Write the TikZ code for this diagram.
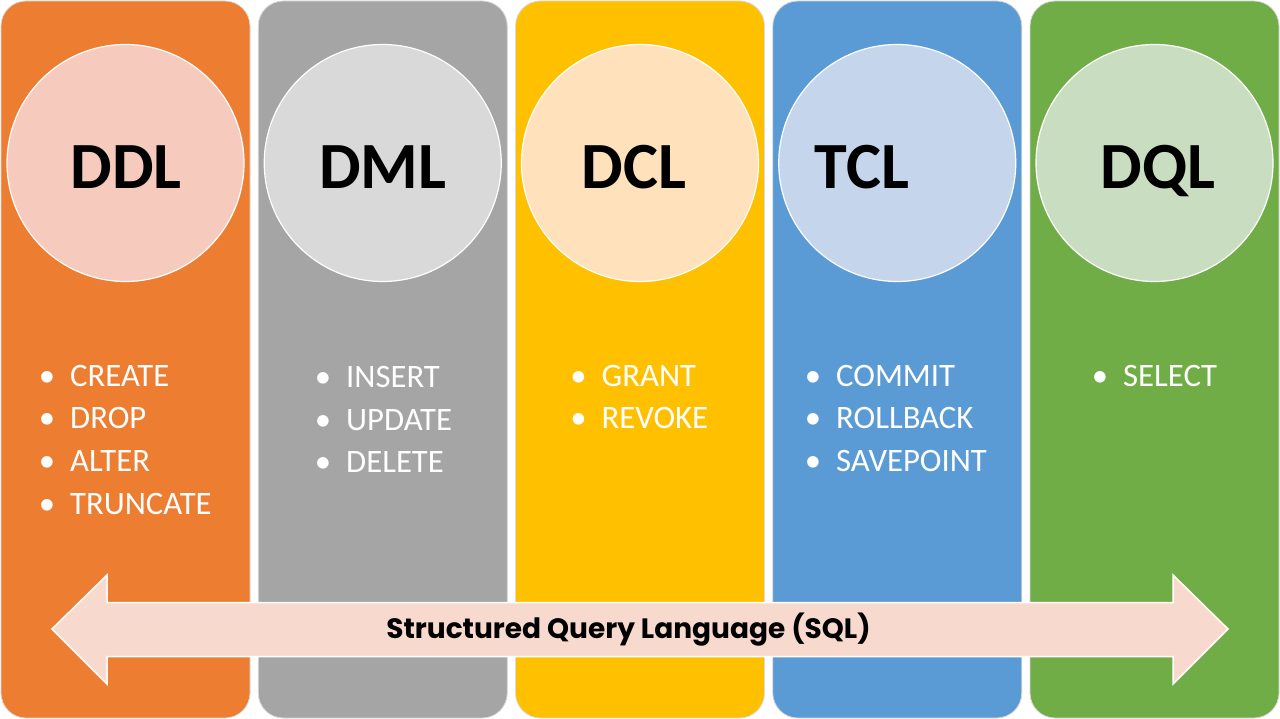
\documentclass[tikz,border=0pt]{standalone}
\usepackage{fontspec}
\setmainfont{Carlito}
\newfontfamily\sqlfont{Poppins}
\definecolor{cOrange}{HTML}{ED7D31}
\definecolor{cGray}{HTML}{A5A5A5}
\definecolor{cYellow}{HTML}{FFC000}
\definecolor{cBlue}{HTML}{5B9BD5}
\definecolor{cGreen}{HTML}{70AD47}
\definecolor{kOrange}{HTML}{F6CBBE}
\definecolor{kGray}{HTML}{D9D9D9}
\definecolor{kYellow}{HTML}{FFE1BB}
\definecolor{kBlue}{HTML}{C5D5EB}
\definecolor{kGreen}{HTML}{C9DEC0}
\definecolor{arrowfill}{HTML}{F8D9CE}
\begin{document}
\begin{tikzpicture}[x=1pt,y=-1pt,
  col/.style={rounded corners=25pt, draw=black!15, line width=0.8pt},
  circ/.style={circle, draw=white, line width=1.2pt, minimum size=237pt, inner sep=0pt},
  ttl/.style={font=\fontsize{66}{66}\selectfont\bfseries, anchor=base, inner sep=0pt},
  item/.style={font=\fontsize{32.7}{33}\selectfont, text=white, anchor=base west, inner sep=0pt,
    execute at begin node={\llap{•\hspace{15pt}}}},
  sqlarrow/.style={fill=arrowfill, draw=white, line width=1.5pt, line join=miter}
]
\useasboundingbox (0,0) rectangle (1280,719);
\fill[white] (0,0) rectangle (1280,719);
% columns
\filldraw[col, fill=cOrange] (1,1) rectangle (250,718);
\filldraw[col, fill=cGray] (258.25,1) rectangle (507.25,718);
\filldraw[col, fill=cYellow] (515.5,1) rectangle (764.5,718);
\filldraw[col, fill=cBlue] (772.75,1) rectangle (1021.75,718);
\filldraw[col, fill=cGreen] (1030,1) rectangle (1279,718);
% circles
\node[circ, fill=kOrange] (c1) at (125.5,163) {};
\node[circ, fill=kGray] (c2) at (382.75,163) {};
\node[circ, fill=kYellow] (c3) at (640,163) {};
\node[circ, fill=kBlue] (c4) at (897.25,163) {};
\node[circ, fill=kGreen] (c5) at (1154.5,163) {};
\node[ttl] (t1) at (126,189) {DDL};
\node[ttl] (t2) at (383,189) {DML};
\node[ttl] (t3) at (634,189) {DCL};
\node[ttl] (t4) at (862,189) {TCL};
\node[ttl] (t5) at (1158,189) {DQL};
% items
\foreach \t [count=\k from 0] in {CREATE,DROP,ALTER,TRUNCATE}
  \node[item] (ddl-\k) at (70,386+42.7*\k) {\t};
\foreach \t [count=\k from 0] in {INSERT,UPDATE,DELETE}
  \node[item] (dml-\k) at (346,387.5+42.7*\k) {\t};
\foreach \t [count=\k from 0] in {GRANT,REVOKE}
  \node[item] (dcl-\k) at (601.5,386+42.7*\k) {\t};
\foreach \t [count=\k from 0] in {COMMIT,ROLLBACK,SAVEPOINT}
  \node[item] (tcl-\k) at (836,386+42.7*\k) {\t};
\node[item] (dql-0) at (1123,386) {SELECT};
% double arrow
\draw[sqlarrow] (52,629) -- (107,575) -- (107,602.5) -- (1173,602.5) -- (1173,575)
  -- (1228,629) -- (1173,684) -- (1173,656.5) -- (107,656.5) -- (107,684) -- cycle;
\node[font=\sqlfont\bfseries\fontsize{28}{28}\selectfont, anchor=base, inner sep=0pt] (sql) at (628.5,638) {Structured Query Language (SQL)};
\end{tikzpicture}
\end{document}
